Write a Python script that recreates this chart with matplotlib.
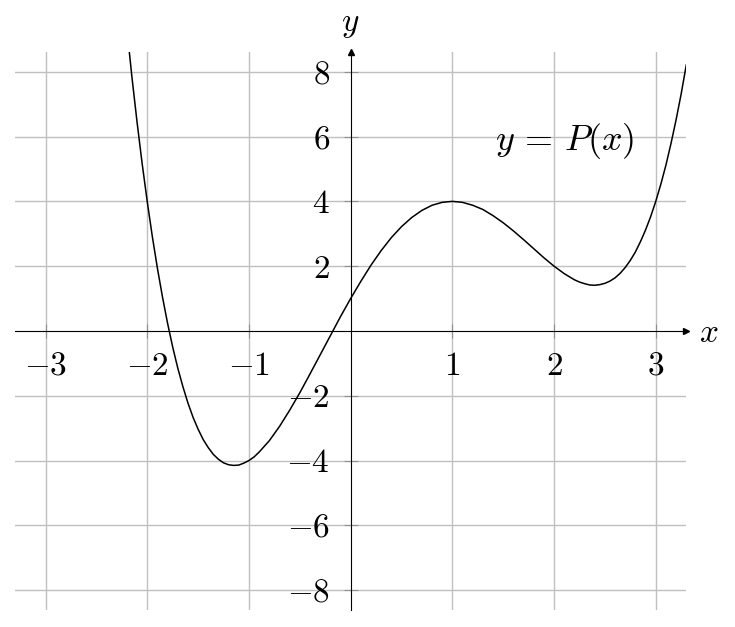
import matplotlib
matplotlib.use("Agg")
import matplotlib.pyplot as plt

plt.rcParams['mathtext.fontset'] = 'cm'
plt.rcParams['font.family'] = 'serif'
plt.rcParams['font.serif'] = ['cmr10', 'DejaVu Serif']

xs = [-2.2, -2.15, -2.1, -2.05, -2.0, -1.95, -1.9, -1.85, -1.8, -1.75, -1.7, -1.65, -1.6,
      -1.55, -1.5, -1.45, -1.4, -1.35, -1.3, -1.25, -1.2, -1.15, -1.1, -1.05, -1.0,
      -0.95, -0.9, -0.8, -0.7, -0.6, -0.5, -0.4, -0.3, -0.2, -0.1,
      0.0, 0.1, 0.2, 0.3, 0.4, 0.5, 0.6, 0.7, 0.8, 0.9, 1.0, 1.1, 1.2, 1.3,
      1.4, 1.5, 1.6, 1.7, 1.8, 1.9, 2.0, 2.1, 2.2, 2.25, 2.3, 2.35, 2.4, 2.45,
      2.5, 2.55, 2.6, 2.65, 2.7, 2.75, 2.8, 2.85, 2.9, 2.95, 3.0, 3.05, 3.1,
      3.15, 3.2, 3.25, 3.3]
ys = [9.33, 7.83, 6.45, 5.17, 4.00, 2.92, 1.94, 1.05, 0.24, -0.49, -1.14, -1.71, -2.22,
      -2.66, -3.03, -3.35, -3.60, -3.81, -3.96, -4.07, -4.13, -4.15, -4.14, -4.08, -4.00,
      -3.89, -3.74, -3.39, -2.95, -2.45, -1.91, -1.33, -0.74, -0.15, 0.44,
      1.00, 1.53, 2.03, 2.48, 2.88, 3.22, 3.50, 3.72, 3.88, 3.97, 4.00, 3.97, 3.88, 3.75,
      3.56, 3.34, 3.09, 2.82, 2.54, 2.26, 2.00, 1.77, 1.58, 1.51, 1.46, 1.42, 1.41, 1.43,
      1.47, 1.54, 1.64, 1.78, 1.96, 2.18, 2.44, 2.76, 3.12, 3.53, 4.00, 4.53, 5.12,
      5.79, 6.52, 7.32, 8.21]

xticks = [-3, -2, -1, 1, 2, 3]
yticks = [-8, -6, -4, -2, 2, 4, 6, 8]
fs = 24

fig = plt.figure(figsize=(7.35, 6.27), dpi=100)
ax = fig.add_axes([0.0204, 0.0278, 0.9133, 0.8887])
ax.set_xlim(-3.3, 3.3)
ax.set_ylim(-8.6, 8.6)

ax.plot(xs, ys, color='black', lw=1.1, zorder=3)

# axes through the origin
for s in ['top', 'right']:
    ax.spines[s].set_visible(False)
ax.spines['left'].set_position('zero')
ax.spines['bottom'].set_position('zero')
ax.spines['left'].set_linewidth(0.8)
ax.spines['bottom'].set_linewidth(0.8)
ax.plot(1, 0, marker='>', color='black', ms=5, transform=ax.get_yaxis_transform(), clip_on=False)
ax.plot(0, 1, marker='^', color='black', ms=5, transform=ax.get_xaxis_transform(), clip_on=False)

ax.set_xticks(xticks)
ax.set_yticks(yticks)
ax.set_xticklabels([r'$%d$' % v for v in xticks])
ax.set_yticklabels([r'$%d$' % v for v in yticks])
ax.tick_params(direction='inout', length=10, width=0.8, color='#909090', labelsize=fs)
ax.tick_params(axis='x', pad=10)
ax.tick_params(axis='y', pad=10)
ax.grid(True, color='#c0c0c0', lw=1.0)
ax.set_axisbelow(True)

ax.annotate(r'$x$', xy=(1.0, 0.5), xycoords='axes fraction', xytext=(16, -2),
            textcoords='offset points', fontsize=fs, ha='center', va='center')
ax.annotate(r'$y$', xy=(0.5, 1.0), xycoords='axes fraction', xytext=(0, 19),
            textcoords='offset points', fontsize=fs, ha='center', va='center')
ax.text(2.1, 5.85, r'$y\,=\,P(x)$', fontsize=26, ha='center', va='center')

fig.savefig('out.png', dpi=100)
